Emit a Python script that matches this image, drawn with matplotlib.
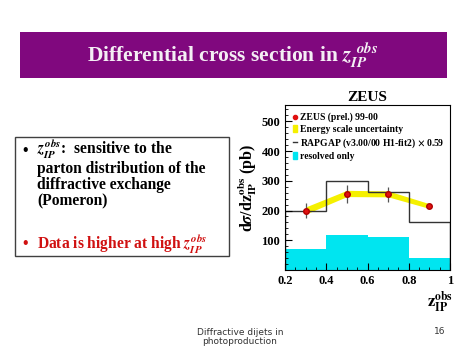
import matplotlib.pyplot as plt
from matplotlib.patches import Rectangle, Patch
from matplotlib.lines import Line2D

plt.rcParams['font.family'] = ['Liberation Serif', 'DejaVu Serif']
plt.rcParams['font.weight'] = 'bold'
plt.rcParams['mathtext.fontset'] = 'stix'

# data
z_points = [0.3, 0.5, 0.7, 0.9]
xsec = [200, 257, 255, 215]
xsec_err = [25, 30, 25, 8]
band_lo = [188, 247, 246, 207]
band_hi = [212, 268, 266, 223]
bin_edges = [0.2, 0.4, 0.6, 0.8, 1.0]
rapgap = [197, 298, 262, 160]
resolved = [72, 118, 112, 40]
y_ticks = [100, 200, 300, 400, 500]
x_ticks = [0.2, 0.4, 0.6, 0.8, 1.0]
x_ticklabels = ['0.2', '0.4', '0.6', '0.8', '1']

fig = plt.figure(figsize=(4.74, 3.55), dpi=100)
fig.patch.set_facecolor('white')

# title banner
fig.patches.append(Rectangle((20/474, 1 - 78/355), 427/474, 46/355,
                             transform=fig.transFigure, facecolor='#80087e',
                             edgecolor='none'))
fig.text(233/474, 1 - 55/355, r'Differential cross section in $z_{IP}^{\ obs}$',
         color='#f4eef4', fontsize=15.5, ha='center', va='center', weight='bold',
         math_fontfamily='stix')

# text box
fig.patches.append(Rectangle((15/474, 1 - 256/355), 214/474, 119/355,
                             transform=fig.transFigure, facecolor='white',
                             edgecolor='#404040', lw=1))
lines = [r'$z_{IP}^{obs}$:  sensitive to the', 'parton distribution of the',
         'diffractive exchange', '(Pomeron)']
ys = [149, 169, 185, 201]
fig.text(22/474, 1 - 151/355, '•', fontsize=11.2, va='center')
for t, y in zip(lines, ys):
    fig.text(37/474, 1 - y/355, t, fontsize=11.2, va='center', weight='bold')
fig.text(22/474, 1 - 244/355, '•', fontsize=11.2, va='center', color='#d01010')
fig.text(37/474, 1 - 244/355, r'Data is higher at high $z_{IP}^{obs}$',
         fontsize=11.2, va='center', color='#d01010', weight='bold')

# footer
fig.text(240/474, 1 - 337/355, 'Diffractive dijets in\nphotoproduction',
         fontsize=6.5, ha='center', va='center', family='DejaVu Sans',
         weight='normal', color='#333333', linespacing=1.1)
fig.text(440/474, 1 - 332/355, '16', fontsize=6.5, ha='center', va='center',
         family='DejaVu Sans', weight='normal', color='#333333')

# plot
ax = fig.add_axes([285/474, 1 - 270/355, 165/474, 165/355])
ax.bar(bin_edges[:-1], resolved, width=0.2, align='edge', color='#00e5f0',
       edgecolor='none')
ax.fill_between(z_points, band_lo, band_hi, color='#f5f000', lw=0)
ax.stairs(rapgap, bin_edges, color='#333333', lw=1)
ax.errorbar(z_points, xsec, yerr=xsec_err, fmt='o', color='#e01010',
            ecolor='#555555', elinewidth=0.9, ms=4, mec='#b00000')

ax.set_xlim(0.2, 1.0)
ax.set_ylim(0, 555)
ax.set_xticks(x_ticks)
ax.set_xticklabels(x_ticklabels)
ax.set_yticks(y_ticks)
ax.minorticks_on()
ax.tick_params(which='both', direction='in', right=False, top=False,
               labelsize=9)
ax.tick_params(which='major', length=5)
ax.tick_params(which='minor', length=2.5)
for lab in ax.get_xticklabels() + ax.get_yticklabels():
    lab.set_fontweight('bold')

ax.set_title('ZEUS', fontsize=11, weight='bold', pad=3)
ax.set_ylabel(r'd$\sigma$/d$\mathbf{z}_{\mathbf{IP}}^{\mathbf{obs}}$ (pb)',
              fontsize=11.5, weight='bold', labelpad=2)
fig.text(440/474, 1 - 302/355, r'$\mathbf{z}_{\mathbf{IP}}^{\mathbf{obs}}$',
         fontsize=12, ha='center', va='center')

handles = [
    Line2D([], [], marker='o', color='#e01010', ls='none', ms=3),
    Patch(color='#f5f000'),
    Line2D([], [], color='#333333', lw=1),
    Patch(color='#00e5f0'),
]
labels = ['ZEUS (prel.) 99-00', 'Energy scale uncertainty',
          r'RAPGAP (v3.00/00 H1-fit2) $\times$ 0.59', 'resolved only']
ax.legend(handles, labels, loc='upper left', frameon=False,
          handlelength=0.5, handletextpad=0.25, labelspacing=0.25,
          borderaxespad=0.5, borderpad=0.3,
          prop={'weight': 'bold', 'size': 6.9})

fig.savefig('out.png', dpi=100)
